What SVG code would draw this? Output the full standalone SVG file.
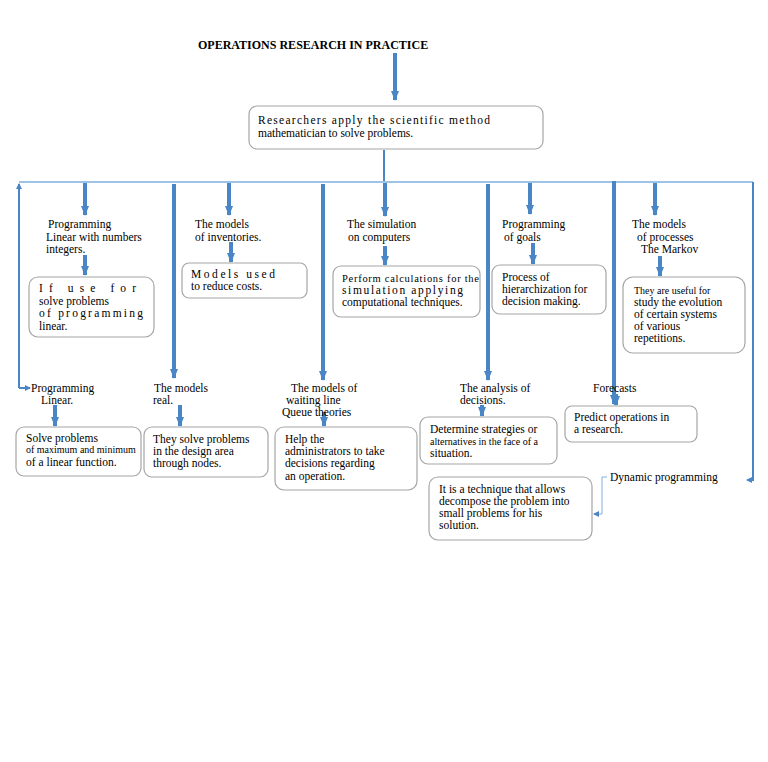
<svg xmlns="http://www.w3.org/2000/svg" width="768" height="762" viewBox="0 0 768 762">
<style>
text{font-family:"Liberation Serif","DejaVu Serif",serif;font-size:11.5px;fill:#000}
.s{font-size:10px}
.box{fill:#fff;stroke:#a6a6a6;stroke-width:1.2}
.a{stroke:#4a86c5;stroke-width:4;fill:none}
.t{stroke:#4a86c5;stroke-width:2;fill:none}
</style>
<defs>
<marker id="ah" markerUnits="userSpaceOnUse" markerWidth="10" markerHeight="8" refX="9" refY="4" orient="auto"><path d="M0,0 L10,4 L0,8 Z" fill="#4a86c5"/></marker>
<marker id="as" markerUnits="userSpaceOnUse" markerWidth="6" markerHeight="6" refX="5" refY="3" orient="auto"><path d="M0,0 L6,3 L0,6 Z" fill="#4a86c5"/></marker>
</defs>
<rect width="768" height="762" fill="#fff"/>
<text x="198" y="49" style="font-weight:bold;font-size:12px">OPERATIONS RESEARCH IN PRACTICE</text>
<g id="connectors">
<path class="a" d="M395,53 V100" stroke-width="6" marker-end="url(#ah)"/>
<path class="t" d="M384,150 V182"/>
<path d="M19,182 H753" stroke="#9dc3e6" stroke-width="2"/>
<path class="a" d="M85,183 V215" marker-end="url(#ah)"/>
<path class="a" d="M229,183 V215" marker-end="url(#ah)"/>
<path class="a" d="M385,183 V216" marker-end="url(#ah)"/>
<path class="a" d="M530,183 V214" marker-end="url(#ah)"/>
<path class="a" d="M655,183 V215" marker-end="url(#ah)"/>
<path class="a" d="M174,184 V378" marker-end="url(#ah)"/>
<path class="a" d="M323,184 V380" marker-end="url(#ah)"/>
<path class="a" d="M488,184 V380" marker-end="url(#ah)"/>
<path class="a" d="M614,181 V404" stroke-width="5" marker-end="url(#ah)"/>
<path class="t" d="M19,388 V184" marker-end="url(#as)"/>
<path class="t" d="M19,388 H30" marker-end="url(#as)"/>
<path class="t" d="M753,182 V480 H747" marker-end="url(#as)"/>
<path class="t" d="M753,184 V182"/>
<path class="a" d="M85,255 V275" stroke-width="3" marker-end="url(#ah)"/>
<path class="a" d="M231,242 V262" stroke-width="3" marker-end="url(#ah)"/>
<path class="a" d="M385,246 V265" stroke-width="3" marker-end="url(#ah)"/>
<path class="a" d="M533,243 V264" stroke-width="3" marker-end="url(#ah)"/>
<path class="a" d="M660,256 V276" stroke-width="3" marker-end="url(#ah)"/>
<path class="a" d="M55,405 V426" stroke-width="3" marker-end="url(#ah)"/>
<path class="a" d="M180,405 V426" stroke-width="3" marker-end="url(#ah)"/>
<path class="a" d="M324,412 V426" stroke-width="3" marker-end="url(#ah)"/>
<path class="a" d="M482,405 V416" stroke-width="3" marker-end="url(#ah)"/>
<path class="a" d="M616,394 V405" stroke-width="3" marker-end="url(#ah)"/>
<path d="M607,477 H602 V514 H594" stroke="#7fb0dd" stroke-width="1" fill="none" marker-end="url(#as)"/>
</g>
<g id="root"><rect class="box" x="249" y="106" width="294" height="43" rx="8"/>
<text x="258" y="124" textLength="232" lengthAdjust="spacing">Researchers apply the scientific method</text>
<text x="258" y="137">mathematician to solve problems.</text></g>
<g id="n-plni"><text x="48" y="228">Programming</text><text x="46" y="241">Linear with numbers</text><text x="46" y="253">integers.</text></g>
<g id="b-plni"><rect class="box" x="29" y="277" width="125" height="60" rx="9"/>
<text x="39" y="292" textLength="97" lengthAdjust="spacing">If use for</text><text x="39" y="305">solve problems</text><text x="39" y="317" textLength="104" lengthAdjust="spacing">of programming</text><text x="39" y="330">linear.</text></g>
<g id="n-inv"><text x="195" y="228">The models</text><text x="195" y="241">of inventories.</text></g>
<g id="b-inv"><rect class="box" x="182" y="263" width="125" height="35" rx="7"/>
<text x="191" y="278" textLength="84" lengthAdjust="spacing">Models used</text><text x="191" y="290">to reduce costs.</text></g>
<g id="n-sim"><text x="347" y="228">The simulation</text><text x="348" y="241">on computers</text></g>
<g id="b-sim"><rect class="box" x="333" y="266" width="147" height="51" rx="8"/>
<text x="342" y="282" textLength="137" lengthAdjust="spacing" style="font-size:10.5px">Perform calculations for the</text><text x="342" y="294" textLength="121" lengthAdjust="spacing">simulation applying</text><text x="342" y="306">computational techniques.</text></g>
<g id="n-goal"><text x="502" y="228">Programming</text><text x="504" y="241">of goals</text></g>
<g id="b-goal"><rect class="box" x="492" y="265" width="114" height="49" rx="8"/>
<text x="502" y="281">Process of</text><text x="502" y="293">hierarchization for</text><text x="502" y="305">decision making.</text></g>
<g id="n-markov"><text x="632" y="228">The models</text><text x="637" y="241">of processes</text><text x="641" y="253">The Markov</text></g>
<g id="b-markov"><rect class="box" x="623" y="277" width="122" height="76" rx="10"/>
<text x="634" y="294" class="s">They are useful for</text><text x="634" y="306">study the evolution</text><text x="634" y="318">of certain systems</text><text x="634" y="330">of various</text><text x="634" y="342">repetitions.</text></g>
<g id="n-pl"><text x="31" y="392">Programming</text><text x="41" y="404">Linear.</text></g>
<g id="b-pl"><rect class="box" x="16" y="427" width="125" height="49" rx="8"/>
<text x="26" y="442">Solve  problems</text><text x="26" y="453" class="s">of maximum and minimum</text><text x="26" y="466">of a linear function.</text></g>
<g id="n-real"><text x="154" y="392">The models</text><text x="153" y="404">real.</text></g>
<g id="b-real"><rect class="box" x="144" y="427" width="124" height="50" rx="8"/>
<text x="153" y="443">They  solve  problems</text><text x="153" y="455">in the design area</text><text x="153" y="467">through nodes.</text></g>
<g id="n-queue"><text x="291" y="392">The models of</text><text x="286" y="404">waiting line</text><text x="282" y="416">Queue theories</text></g>
<g id="b-queue"><rect class="box" x="275" y="427" width="142" height="63" rx="9"/>
<text x="285" y="443">Help the</text><text x="285" y="455">administrators to take</text><text x="285" y="467">decisions regarding</text><text x="285" y="480">an operation.</text></g>
<g id="n-dec"><text x="460" y="392">The analysis of</text><text x="460" y="404">decisions.</text></g>
<g id="b-dec"><rect class="box" x="420" y="417" width="137" height="47" rx="8"/>
<text x="430" y="433">Determine strategies or</text><text x="430" y="445" class="s">alternatives in the face of a</text><text x="430" y="457">situation.</text></g>
<g id="n-fc"><text x="593" y="392">Forecasts</text></g>
<g id="b-fc"><rect class="box" x="565" y="406" width="132" height="36" rx="7"/>
<text x="574" y="421">Predict  operations  in</text><text x="574" y="433">a research.</text></g>
<g id="n-dp"><text x="610" y="481">Dynamic programming</text></g>
<g id="b-dp"><rect class="box" x="429" y="477" width="163" height="63" rx="9"/>
<text x="439" y="493">It is a technique that allows</text><text x="439" y="505">decompose the problem into</text><text x="439" y="517">small problems for his</text><text x="439" y="529">solution.</text></g>
</svg>
